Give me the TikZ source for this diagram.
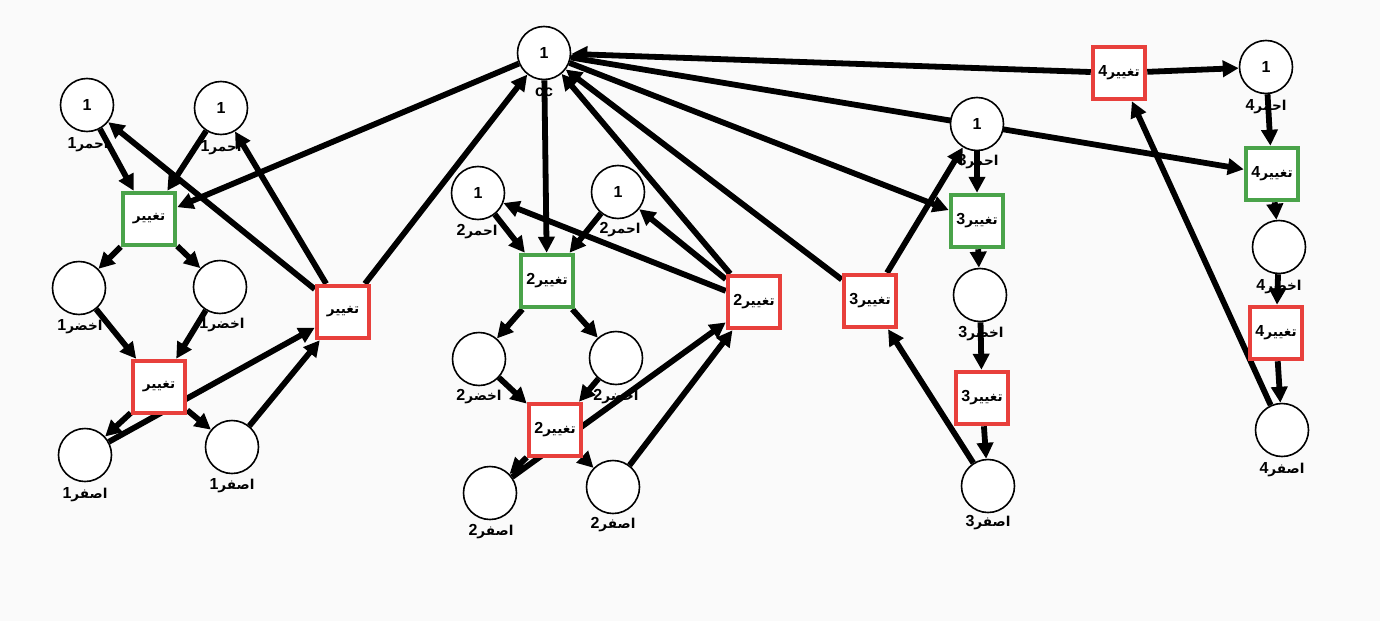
\documentclass[tikz,border=0pt]{standalone}
\usepackage{fontspec}
\setmainfont{Liberation Sans}
\newfontfamily\arabicfont[Script=Arabic,Scale=0.85]{DejaVu Sans}
\TeXXeTstate=1
\usetikzlibrary{arrows.meta}
\definecolor{bgc}{RGB}{250,250,250}
\definecolor{tgreen}{RGB}{74,163,74}
\definecolor{tred}{RGB}{232,64,60}
\pgfdeclarelayer{back}
\pgfdeclarelayer{labs}
\pgfdeclarelayer{edges}
\pgfsetlayers{back,labs,edges,main}
\newcommand{\arl}[2]{\beginR{\arabicfont\bfseries #1}{\bfseries #2}\endR}
\tikzset{
  place/.style={circle,draw=black,line width=1.6pt,fill=white,minimum size=53pt,inner sep=0pt,font=\bfseries\fontsize{16}{16}\selectfont},
  trg/.style={rectangle,draw=tgreen,line width=4.5pt,fill=white,minimum size=52pt,inner sep=0pt,font=\fontsize{16}{16}\selectfont},
  trr/.style={trg,draw=tred},
  lbl/.style={inner sep=0pt,font=\fontsize{16}{16}\selectfont},
  arc/.style={line width=5.8pt,-{Triangle[length=16pt,width=16pt]}}
}
\begin{document}
\begin{tikzpicture}[x=1pt,y=-1pt]
\begin{pgfonlayer}{back}
\fill[bgc] (0,0) rectangle (1380,621);
\end{pgfonlayer}
\useasboundingbox (0,0) rectangle (1380,621);
% places
\node[place] (cc) at (544,53) {1};
\node[place] (r1a) at (87,105) {1};
\node[place] (r1b) at (221,108) {1};
\node[place] (y1a) at (79,288) {};
\node[place] (y1b) at (220,287) {};
\node[place] (o1a) at (85,455) {};
\node[place] (o1b) at (232,447) {};
\node[place] (r2a) at (478,193) {1};
\node[place] (r2b) at (618,192) {1};
\node[place] (y2a) at (479,359) {};
\node[place] (y2b) at (616,358) {};
\node[place] (o2a) at (490,493) {};
\node[place] (o2b) at (613,487) {};
\node[place] (r3) at (977,124) {1};
\node[place] (y3) at (980,295) {};
\node[place] (o3) at (988,486) {};
\node[place] (r4) at (1266,67) {1};
\node[place] (y4) at (1279,247) {};
\node[place] (o4) at (1282,430) {};
% transitions
\node[trg] (g1) at (149,219) {\arl{تغيير}{}};
\node[trr] (t1) at (159,387) {\arl{تغيير}{}};
\node[trr] (rt1) at (343,312) {\arl{تغيير}{}};
\node[trg] (g2) at (547,281) {\arl{تغيير}{2}};
\node[trr] (t2) at (555,430) {\arl{تغيير}{2}};
\node[trr] (rt2) at (754,302) {\arl{تغيير}{2}};
\node[trg] (g3) at (977,221) {\arl{تغيير}{3}};
\node[trr] (t3) at (982,398) {\arl{تغيير}{3}};
\node[trr] (rt3) at (870,301) {\arl{تغيير}{3}};
\node[trr] (rt4) at (1119,73) {\arl{تغيير}{4}};
\node[trg] (g4) at (1272,174) {\arl{تغيير}{4}};
\node[trr] (t4) at (1276,333) {\arl{تغيير}{4}};
% labels
\begin{pgfonlayer}{labs}
\node[lbl] (lcc) at (544,92) {\bfseries cc};
\node[lbl] (lr1a) at (88,145) {\arl{احمر}{1}};
\node[lbl] (lr1b) at (221,148) {\arl{احمر}{1}};
\node[lbl] (ly1a) at (80,327) {\arl{اخضر}{1}};
\node[lbl] (ly1b) at (222,325) {\arl{اخضر}{1}};
\node[lbl] (lo1a) at (85,495) {\arl{اصفر}{1}};
\node[lbl] (lo1b) at (232,486) {\arl{اصفر}{1}};
\node[lbl] (lr2a) at (477,232) {\arl{احمر}{2}};
\node[lbl] (lr2b) at (620,230) {\arl{احمر}{2}};
\node[lbl] (ly2a) at (479,397) {\arl{اخضر}{2}};
\node[lbl] (ly2b) at (616,397) {\arl{اخضر}{2}};
\node[lbl] (lo2a) at (491,532) {\arl{اصفر}{2}};
\node[lbl] (lo2b) at (613,525) {\arl{اصفر}{2}};
\node[lbl] (lr3) at (978,162) {\arl{احمر}{3}};
\node[lbl] (ly3) at (981,334) {\arl{اخضر}{3}};
\node[lbl] (lo3) at (988,523) {\arl{اصفر}{3}};
\node[lbl] (lr4) at (1266,107) {\arl{احمر}{4}};
\node[lbl] (ly4) at (1279,287) {\arl{اخضر}{4}};
\node[lbl] (lo4) at (1282,470) {\arl{اصفر}{4}};
\end{pgfonlayer}
% arcs
\begin{pgfonlayer}{edges}
\draw[arc] (r1a) -- (g1);
\draw[arc] (r1b) -- (g1);
\draw[arc] (cc) -- (g1);
\draw[arc] (g1) -- (y1a);
\draw[arc] (g1) -- (y1b);
\draw[arc] (y1a) -- (t1);
\draw[arc] (y1b) -- (t1);
\draw[arc] (t1) -- (o1a);
\draw[arc] (t1) -- (o1b);
\draw[arc] (o1a) -- (rt1);
\draw[arc] (o1b) -- (rt1);
\draw[arc] (rt1) -- (r1a);
\draw[arc] (rt1) -- (r1b);
\draw[arc] (rt1) -- (cc);
\draw[arc] (cc) -- (g2);
\draw[arc] (r2a) -- (g2);
\draw[arc] (r2b) -- (g2);
\draw[arc] (g2) -- (y2a);
\draw[arc] (g2) -- (y2b);
\draw[arc] (y2a) -- (t2);
\draw[arc] (y2b) -- (t2);
\draw[arc] (t2) -- (o2a);
\draw[arc] (t2) -- (o2b);
\draw[arc] (o2a) -- (rt2);
\draw[arc] (o2b) -- (rt2);
\draw[arc] (rt2) -- (r2a);
\draw[arc] (rt2) -- (r2b);
\draw[arc] (rt2) -- (cc);
\draw[arc] (cc) -- (g3);
\draw[arc] (r3) -- (g3);
\draw[arc] (g3) -- (y3);
\draw[arc] (y3) -- (t3);
\draw[arc] (t3) -- (o3);
\draw[arc] (o3) -- (rt3);
\draw[arc] (rt3) -- (r3);
\draw[arc] (rt3) -- (cc);
\draw[arc] (rt4) -- (cc);
\draw[arc] (rt4) -- (r4);
\draw[arc] (r4) -- (g4);
\draw[arc] (cc) -- (g4);
\draw[arc] (g4) -- (y4);
\draw[arc] (y4) -- (t4);
\draw[arc] (t4) -- (o4);
\draw[arc] (o4) -- (rt4);
\end{pgfonlayer}
\end{tikzpicture}
\end{document}
